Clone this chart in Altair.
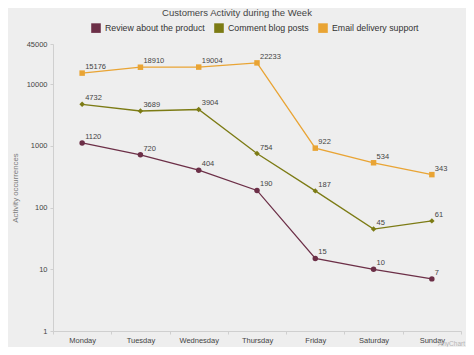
import altair as alt
import pandas as pd

days = ["Monday", "Tuesday", "Wednesday", "Thursday", "Friday", "Saturday", "Sunday"]
series = ["Review about the product", "Comment blog posts", "Email delivery support"]
review = [1120, 720, 404, 190, 15, 10, 7]
comment = [4732, 3689, 3904, 754, 187, 45, 61]
email = [15176, 18910, 19004, 22233, 922, 534, 343]
colors = ["#6c2f47", "#7c7b14", "#e9a434"]
shapes = ["circle", "diamond", "square"]
y_ticks = [1, 10, 100, 1000, 10000, 45000]

rows = []
for name, vals in zip(series, [review, comment, email]):
    for d, v in zip(days, vals):
        rows.append({"day": d, "series": name, "value": v})
df = pd.DataFrame(rows)

FONT = "Liberation Sans"

x = alt.X(
    "day:N",
    sort=days,
    title=None,
    scale=alt.Scale(type="band", paddingInner=0, paddingOuter=0),
    axis=alt.Axis(
        labelAngle=0, tickBand="extent", tickSize=3, tickColor="#cfcfcf",
        domainColor="#cfcfcf", labelColor="#444444", labelFontSize=7.5,
        labelFont=FONT, labelPadding=2, grid=False,
    ),
)
y = alt.Y(
    "value:Q",
    title="Activity occurrences",
    scale=alt.Scale(type="log", domain=[1, 45000], nice=False),
    axis=alt.Axis(
        values=y_ticks, format="d", tickSize=3, tickColor="#cfcfcf",
        domainColor="#cfcfcf", labelColor="#444444", labelFontSize=7.5,
        labelFont=FONT, titleFont=FONT, titleFontSize=7.8, titleFontWeight="normal",
        titleColor="#7a7a7a", titlePadding=7, labelPadding=3, grid=False,
    ),
)
color_scale = alt.Scale(domain=series, range=colors)
color = alt.Color(
    "series:N",
    scale=color_scale,
    title=None,
    legend=alt.Legend(
        orient="none", direction="horizontal", legendX=38, legendY=-21,
        symbolType="square", symbolSize=92, symbolStrokeWidth=0,
        symbolOpacity=1, symbolFillColor=None, labelFontSize=8.8, labelFont=FONT,
        labelColor="#333333", columnPadding=9, labelOffset=4,
    ),
)
color_nolegend = alt.Color("series:N", scale=color_scale, legend=None)

base = alt.Chart(df)
lines = base.mark_line(strokeWidth=1.3).encode(x=x, y=y, color=color, detail="series:N")
point_layers = [
    base.transform_filter(alt.datum.series == name)
    .mark_point(filled=True, size=30, opacity=1, shape=shp)
    .encode(x=x, y=y, color=color_nolegend)
    for name, shp in zip(series, shapes)
]
labels = base.mark_text(
    align="left", baseline="bottom", dx=3, dy=-2, fontSize=7.5, font=FONT, color="#444444"
).encode(x=x, y=y, text="value:Q")
watermark = alt.Chart(pd.DataFrame({"t": ["AnyChart"]})).mark_text(
    align="right", baseline="middle", fontSize=6.5, font=FONT, color="#b5b5b5"
).encode(x=alt.value(412), y=alt.value(300), text="t:N")

chart = (
    alt.layer(lines, *point_layers, labels, watermark)
    .properties(
        width=408,
        height=287,
        background="#eeeeee",
        padding={"left": 45, "top": 36, "right": 5, "bottom": 16},
        autosize=alt.AutoSizeParams(type="none"),
        title=alt.TitleParams(
            "Customers Activity during the Week", anchor="middle", fontSize=9.5,
            font=FONT, fontWeight="normal", color="#444444", dx=-20, offset=6,
        ),
    )
    .configure_view(stroke=None)
)

chart.save("out.html", embed_options={"renderer": "svg", "actions": False})
